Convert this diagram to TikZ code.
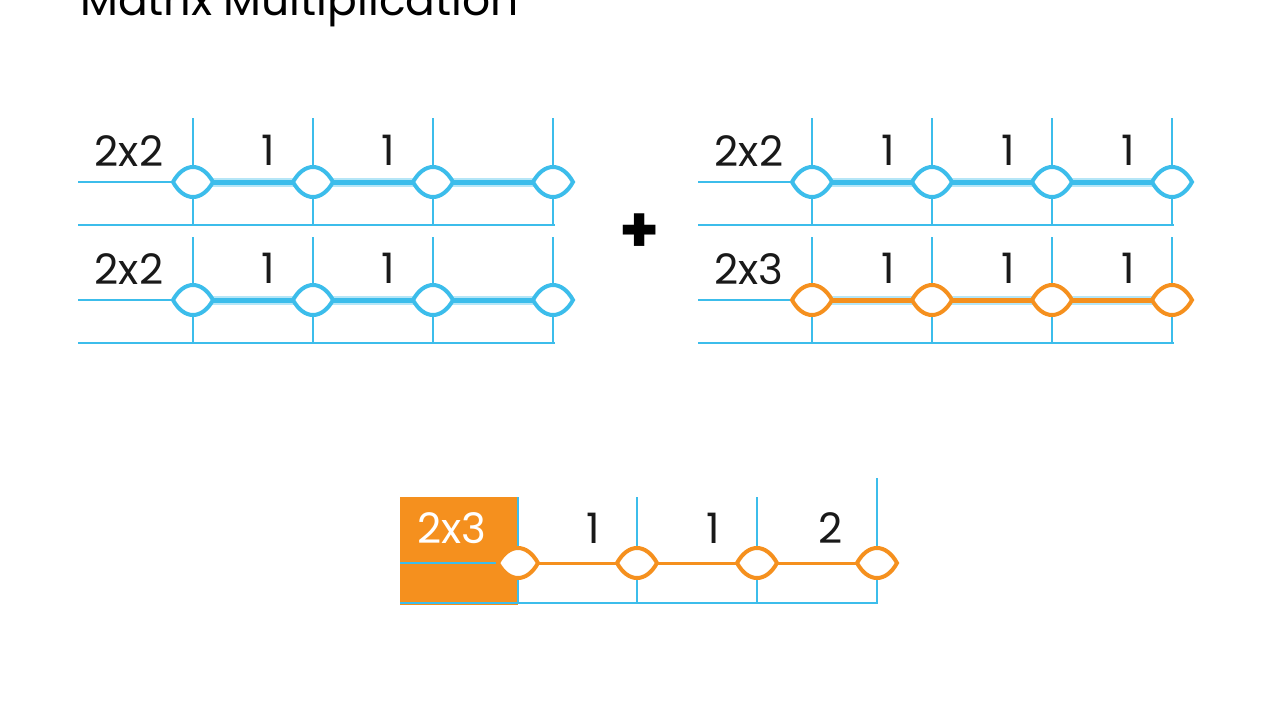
\documentclass[tikz,border=0pt]{standalone}
\usepackage{fontspec}
\setmainfont{Poppins}
\definecolor{cy}{HTML}{3CBDEB}
\definecolor{cyl}{HTML}{B5E6F7}
\definecolor{og}{HTML}{F5901E}
\tikzset{
  thin line/.style={draw=cy,line width=1.6pt},
  lbl/.style={font=\fontsize{42}{42}\selectfont,text=black!90,inner sep=0pt},
  lens/.pic={\path[draw=#1,line width=4pt,fill=white] (-20,0) .. controls (-9,-20) and (9,-20) .. (20,0) .. controls (9,20) and (-9,20) .. (-20,0) -- cycle;},
}
\begin{document}
\begin{tikzpicture}[x=1pt,y=-1pt]
\useasboundingbox (0,0) rectangle (1280,720);
\node[anchor=base west,font=\fontsize{44}{44}\selectfont,inner sep=0pt] (title) at (80,16) {Matrix Multiplication};
\newcommand{\mrow}[8]{%
  \foreach \i/\xx in {0/#1,1/#1+120,2/#1+240,3/#1+360}{
    \coordinate (#8\i) at (\xx,#3);
    \draw[thin line] (\xx,#2) -- (\xx,#4);
  }
  \coordinate (#8L) at (#7,#3);
  \draw[thin line] (#7,#4) -- (#1+362,#4);
  \draw[thin line] (#8L) -- (#80);
  \draw[draw=cyl,line width=9pt] (#80) -- (#81) -- (#82) -- (#83);
  \draw[draw=#5,line width=5pt] (#80) -- (#81) -- (#82) -- (#83);
  \foreach \i in {0,1,2,3}{\pic at (#8\i) {lens=#5};}
  \node[lbl] (#8lab) at (#7+51,#3-31) {#6};
}
\mrow{193}{118}{182}{225}{cy}{2x2}{78}{a}
\node[lbl] at (268,150) {1};\node[lbl] at (388,150) {1};
\mrow{193}{237}{300}{343}{cy}{2x2}{78}{b}
\node[lbl] at (268,268) {1};\node[lbl] at (388,268) {1};
\mrow{812}{118}{182}{225}{cy}{2x2}{698}{c}
\node[lbl] at (888,150) {1};\node[lbl] at (1008,150) {1};\node[lbl] at (1128,150) {1};
\mrow{812}{237}{300}{343}{og}{2x3}{698}{d}
\node[lbl] at (888,268) {1};\node[lbl] at (1008,268) {1};\node[lbl] at (1128,268) {1};
\node[font=\fontsize{64}{64}\selectfont\bfseries,inner sep=0pt] (plus) at (640,233) {+};
\fill[og] (400,497) rectangle (518,605);
\draw[thin line] (400,563) -- (500,563);
\foreach \i/\xx/\yt in {0/518/497,1/637/497,2/757/497,3/877/478}{
  \coordinate (e\i) at (\xx,563);
  \draw[thin line] (\xx,\yt) -- (\xx,604);
}
\draw[thin line] (400,603) -- (878,603);
\draw[og,line width=3pt] (e0) -- (e1) -- (e2) -- (e3);
\foreach \i in {0,1,2,3}{\pic at (e\i) {lens=og};}
\node[lbl,text=white] (bl) at (452,528) {2x3};
\node[lbl] at (593,528) {1};\node[lbl] at (713,528) {1};\node[lbl] at (831,528) {2};
\end{tikzpicture}
\end{document}
